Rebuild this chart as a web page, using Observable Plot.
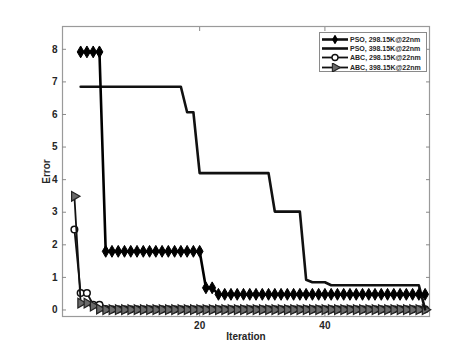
<!DOCTYPE html>
<html>
<head>
<meta charset="utf-8">
<script src="https://cdn.jsdelivr.net/npm/d3@7"></script>
<script src="https://cdn.jsdelivr.net/npm/@observablehq/plot@0.6"></script>
<style>
  html, body { margin: 0; padding: 0; background: #fff; }
  #wrap { position: relative; width: 474px; height: 355px; font-family: "Liberation Sans", Arial, sans-serif; }
  #legend { position: absolute; left: 319px; top: 32px; width: 108px; height: 40px; border: 1px solid #8a8a8a; background: #fff; box-sizing: border-box; padding-top: 1.5px; }
  .row { display: flex; align-items: center; height: 9.4px; }
  .row span { font-size: 7px; font-weight: bold; color: #262626; margin-left: 0px; white-space: nowrap; }
</style>
</head>
<body>
<div id="wrap"><div id="legend"></div></div>
<script>
// Series names
const seriesNames = ["PSO, 298.15K@22nm", "PSO, 398.15K@22nm", "ABC, 298.15K@22nm", "ABC, 398.15K@22nm"];

// Iterations
const psoIter = [1,2,3,4,5,6,7,8,9,10,11,12,13,14,15,16,17,18,19,20,21,22,23,24,25,26,27,28,29,30,31,32,33,34,35,36,37,38,39,40,41,42,43,44,45,46,47,48,49,50,51,52,53,54,55,56];
const abcIter = [0,1,2,3,4,5,6,7,8,9,10,11,12,13,14,15,16,17,18,19,20,21,22,23,24,25,26,27,28,29,30,31,32,33,34,35,36,37,38,39,40,41,42,43,44,45,46,47,48,49,50,51,52,53,54,55,56];

// Error values
const pso298 = [7.92,7.92,7.92,7.92,1.8,1.8,1.8,1.8,1.8,1.8,1.8,1.8,1.8,1.8,1.8,1.8,1.8,1.8,1.8,1.8,0.68,0.68,0.48,0.48,0.48,0.48,0.48,0.48,0.48,0.48,0.48,0.48,0.48,0.48,0.48,0.48,0.48,0.48,0.48,0.48,0.48,0.48,0.48,0.48,0.48,0.48,0.48,0.48,0.48,0.48,0.48,0.48,0.48,0.48,0.48,0.48];
const pso398 = [6.85,6.85,6.85,6.85,6.85,6.85,6.85,6.85,6.85,6.85,6.85,6.85,6.85,6.85,6.85,6.85,6.85,6.07,6.07,4.2,4.2,4.2,4.2,4.2,4.2,4.2,4.2,4.2,4.2,4.2,4.2,3.02,3.02,3.02,3.02,3.02,0.93,0.85,0.85,0.85,0.76,0.76,0.76,0.76,0.76,0.76,0.76,0.76,0.76,0.76,0.76,0.76,0.76,0.76,0.76,0.02];
const abc298 = [2.47,0.52,0.52,0.16,0.16,0.03,0.02,0.02,0.02,0.02,0.02,0.02,0.02,0.02,0.02,0.02,0.02,0.02,0.02,0.02,0.02,0.02,0.02,0.02,0.02,0.02,0.02,0.02,0.02,0.02,0.02,0.02,0.02,0.02,0.02,0.02,0.02,0.02,0.02,0.02,0.02,0.02,0.02,0.02,0.02,0.02,0.02,0.02,0.02,0.02,0.02,0.02,0.02,0.02,0.02,0.02,0.02];
const abc398 = [3.49,0.21,0.21,0.12,0.03,0.01,0.01,0.01,0.01,0.01,0.01,0.01,0.01,0.01,0.01,0.01,0.01,0.01,0.01,0.01,0.01,0.01,0.01,0.01,0.01,0.01,0.01,0.01,0.01,0.01,0.01,0.01,0.01,0.01,0.01,0.01,0.01,0.01,0.01,0.01,0.01,0.01,0.01,0.01,0.01,0.01,0.01,0.01,0.01,0.01,0.01,0.01,0.01,0.01,0.01,0.01,0.01];

// Axis ticks
const xTicks = [20, 40];
const yTicks = [0, 1, 2, 3, 4, 5, 6, 7, 8];

const dPso298 = psoIter.map((x, i) => ({x, y: pso298[i]}));
const dPso398 = psoIter.map((x, i) => ({x, y: pso398[i]}));
const dAbc298 = abcIter.map((x, i) => ({x, y: abc298[i]}));
const dAbc398 = abcIter.map((x, i) => ({x, y: abc398[i]}));

const axisColor = "#262626";
const noText = () => "";

const chart = Plot.plot({
  width: 474,
  height: 355,
  marginLeft: 62,
  marginRight: 45,
  marginTop: 26,
  marginBottom: 39,
  style: {fontFamily: "'Liberation Sans', Arial, sans-serif", fontSize: "10px", color: axisColor, background: "white"},
  x: {domain: [-1.9, 56.7]},
  y: {domain: [-0.2, 8.7]},
  marks: [
    Plot.frame({stroke: "#9a9a9a", strokeWidth: 1.2}),
    // inward ticks
    Plot.axisY(yTicks, {anchor: "left", tickSize: -4, tickFormat: noText, stroke: "#8a8a8a", label: null}),
    Plot.axisY(yTicks, {anchor: "right", tickSize: -4, tickFormat: noText, stroke: "#8a8a8a", label: null}),
    Plot.axisX(xTicks, {anchor: "bottom", tickSize: -4, tickFormat: noText, stroke: "#8a8a8a", label: null}),
    Plot.axisX(xTicks, {anchor: "top", tickSize: -4, tickFormat: noText, stroke: "#8a8a8a", label: null}),
    // labels
    Plot.axisY(yTicks, {anchor: "left", tickSize: 0, tickPadding: 5, fontWeight: "bold", fill: axisColor, label: "Error", labelAnchor: "center", labelOffset: 20, labelArrow: "none"}),
    Plot.axisX(xTicks, {anchor: "bottom", tickSize: 0, tickPadding: 5, fontWeight: "bold", fill: axisColor, label: "Iteration", labelAnchor: "center", labelOffset: 23, labelArrow: "none"}),
    // ABC series
    Plot.line(dAbc298, {x: "x", y: "y", stroke: "#111", strokeWidth: 1.8}),
    Plot.dot(dAbc298, {x: "x", y: "y", symbol: "circle", r: 3.3, stroke: "#111", strokeWidth: 1.5, fill: "white"}),
    Plot.line(dAbc398, {x: "x", y: "y", stroke: "#111", strokeWidth: 1.8}),
    Plot.dot(dAbc398, {x: "x", y: "y", symbol: "triangle", rotate: 90, r: 3.6, stroke: "#222", strokeWidth: 1.2, fill: "#6a6a6a"}),
    // PSO series
    Plot.line(dPso398, {x: "x", y: "y", stroke: "#111", strokeWidth: 2.6}),
    Plot.line(dPso298, {x: "x", y: "y", stroke: "#000", strokeWidth: 2.6}),
    Plot.dot(dPso298, {x: "x", y: "y", symbol: "diamond", r: 3.6, stroke: "#000", strokeWidth: 1, fill: "#000"})
  ]
});
document.getElementById("wrap").prepend(chart);

// Legend (inside the plot area, top right)
const legendStyles = [
  {sw: 2.6, sym: "diamond"},
  {sw: 2.6, sym: null},
  {sw: 1.8, sym: "circle"},
  {sw: 1.8, sym: "triangle"}
];
const legend = d3.select("#legend");
seriesNames.forEach((name, i) => {
  const st = legendStyles[i];
  const row = legend.append("div").attr("class", "row");
  const svg = row.append("svg").attr("width", 30).attr("height", 9);
  svg.append("line").attr("x1", 2).attr("x2", 28).attr("y1", 4.5).attr("y2", 4.5).attr("stroke", "#111").attr("stroke-width", st.sw);
  if (st.sym === "diamond") {
    svg.append("path").attr("transform", "translate(15,4.5)").attr("d", d3.symbol(d3.symbolDiamond, 30)()).attr("fill", "#000");
  } else if (st.sym === "circle") {
    svg.append("circle").attr("cx", 15).attr("cy", 4.5).attr("r", 3).attr("fill", "white").attr("stroke", "#111").attr("stroke-width", 1.4);
  } else if (st.sym === "triangle") {
    svg.append("path").attr("transform", "translate(15,4.5) rotate(90)").attr("d", d3.symbol(d3.symbolTriangle, 36)()).attr("fill", "#6a6a6a").attr("stroke", "#222").attr("stroke-width", 1.1);
  }
  row.append("span").text(name);
});
</script>
</body>
</html>
